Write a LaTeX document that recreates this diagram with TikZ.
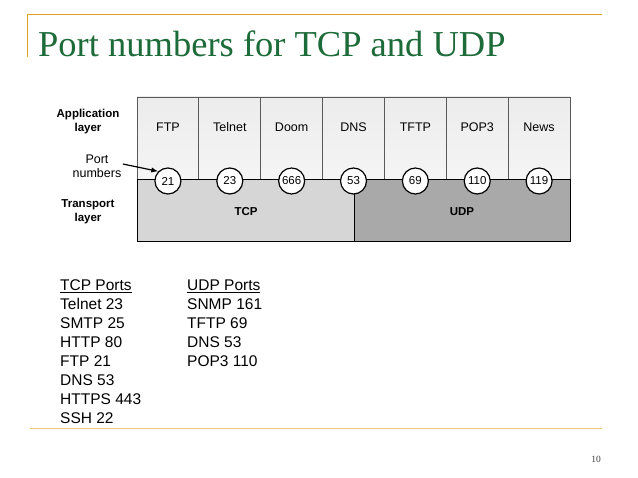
\documentclass[tikz,border=0pt]{standalone}
\usepackage{fontspec}
\setmainfont{Liberation Serif}
\newfontfamily\arial{Liberation Sans}
\usetikzlibrary{arrows.meta}
\definecolor{ttl}{HTML}{1E6B3A}
\definecolor{orn}{HTML}{E0A020}
\definecolor{tcpc}{HTML}{D6D6D6}
\definecolor{udpc}{HTML}{A9A9A9}
\begin{document}
\begin{tikzpicture}[x=1pt,y=-1pt,
  lbl/.style={font=\arial\fontsize{12.5}{14}\selectfont,align=center},
  blbl/.style={font=\arial\bfseries\fontsize{11.5}{14}\selectfont,align=center},
  port/.style={circle,draw,line width=1.2pt,fill=white,minimum size=26pt,inner sep=0pt,font=\arial\fontsize{11.5}{12}\selectfont},
  txt/.style={font=\arial\fontsize{15.5}{18}\selectfont,anchor=base west,inner sep=0pt}]
\useasboundingbox (0,0) rectangle (638,478);
\fill[white] (0,0) rectangle (638,478);
\draw[orn,line width=1pt] (27,57) -- (27,15) -- (602,15);
\node[anchor=base west,inner sep=0pt,text=ttl,font=\fontsize{36.5}{40}\selectfont] (title) at (38,57) {Port numbers for TCP and UDP};
\foreach \i/\n in {0/FTP,1/Telnet,2/Doom,3/DNS,4/TFTP,5/POP3,6/News}{
  \shade[top color=white!85!gray,bottom color=white!92!gray] (137+61.86*\i,97) rectangle (137+61.86*\i+61.86,180);
  \draw[gray!70!black,line width=0.8pt] (137+61.86*\i,97) rectangle (137+61.86*\i+61.86,180);
  \node[lbl] (a\i) at (137+61.86*\i+30.93,127) {\n};
}
\fill[tcpc] (137,180) rectangle (354.5,242);
\fill[udpc] (354.5,180) rectangle (570,242);
\draw[line width=1pt] (137,180) rectangle (570,242);
\draw[line width=1pt] (354.5,180) -- (354.5,242);
\node[blbl] (tcp) at (246,212) {TCP};
\node[blbl] (udp) at (462,212) {UDP};
\foreach \i/\n in {0/21,1/23,2/666,3/53,4/69,5/110,6/119}{
  \node[port] (p\i) at (137+61.86*\i+30.93,181) {\n};
}
\node[blbl] (app) at (88,122) {Application\\layer};
\node[lbl] (pn) at (97,166) {Port\\numbers};
\node[blbl] (tl) at (88,212) {Transport\\layer};
\draw[-{Latex[length=7pt]},line width=1.2pt] (pn.east) ++(-2,-2) coordinate (ps) -- (p0.north west);
\foreach \t [count=\k from 0] in {{\underline{TCP Ports}},Telnet 23,SMTP 25,HTTP 80,FTP 21,DNS 53,HTTPS 443,SSH 22}{
  \node[txt] (t\k) at (60,291+19*\k) {\t};
}
\foreach \t [count=\k from 0] in {{\underline{UDP Ports}},SNMP 161,TFTP 69,DNS 53,POP3 110}{
  \node[txt] (u\k) at (187,291+19*\k) {\t};
}
\draw[orn!60,line width=0.8pt] (30,428) -- (602,428);
\node[anchor=base east,inner sep=0pt,font=\fontsize{9.5}{10}\selectfont,text=gray!50!black] (pg) at (601,463) {10};
\end{tikzpicture}
\end{document}
